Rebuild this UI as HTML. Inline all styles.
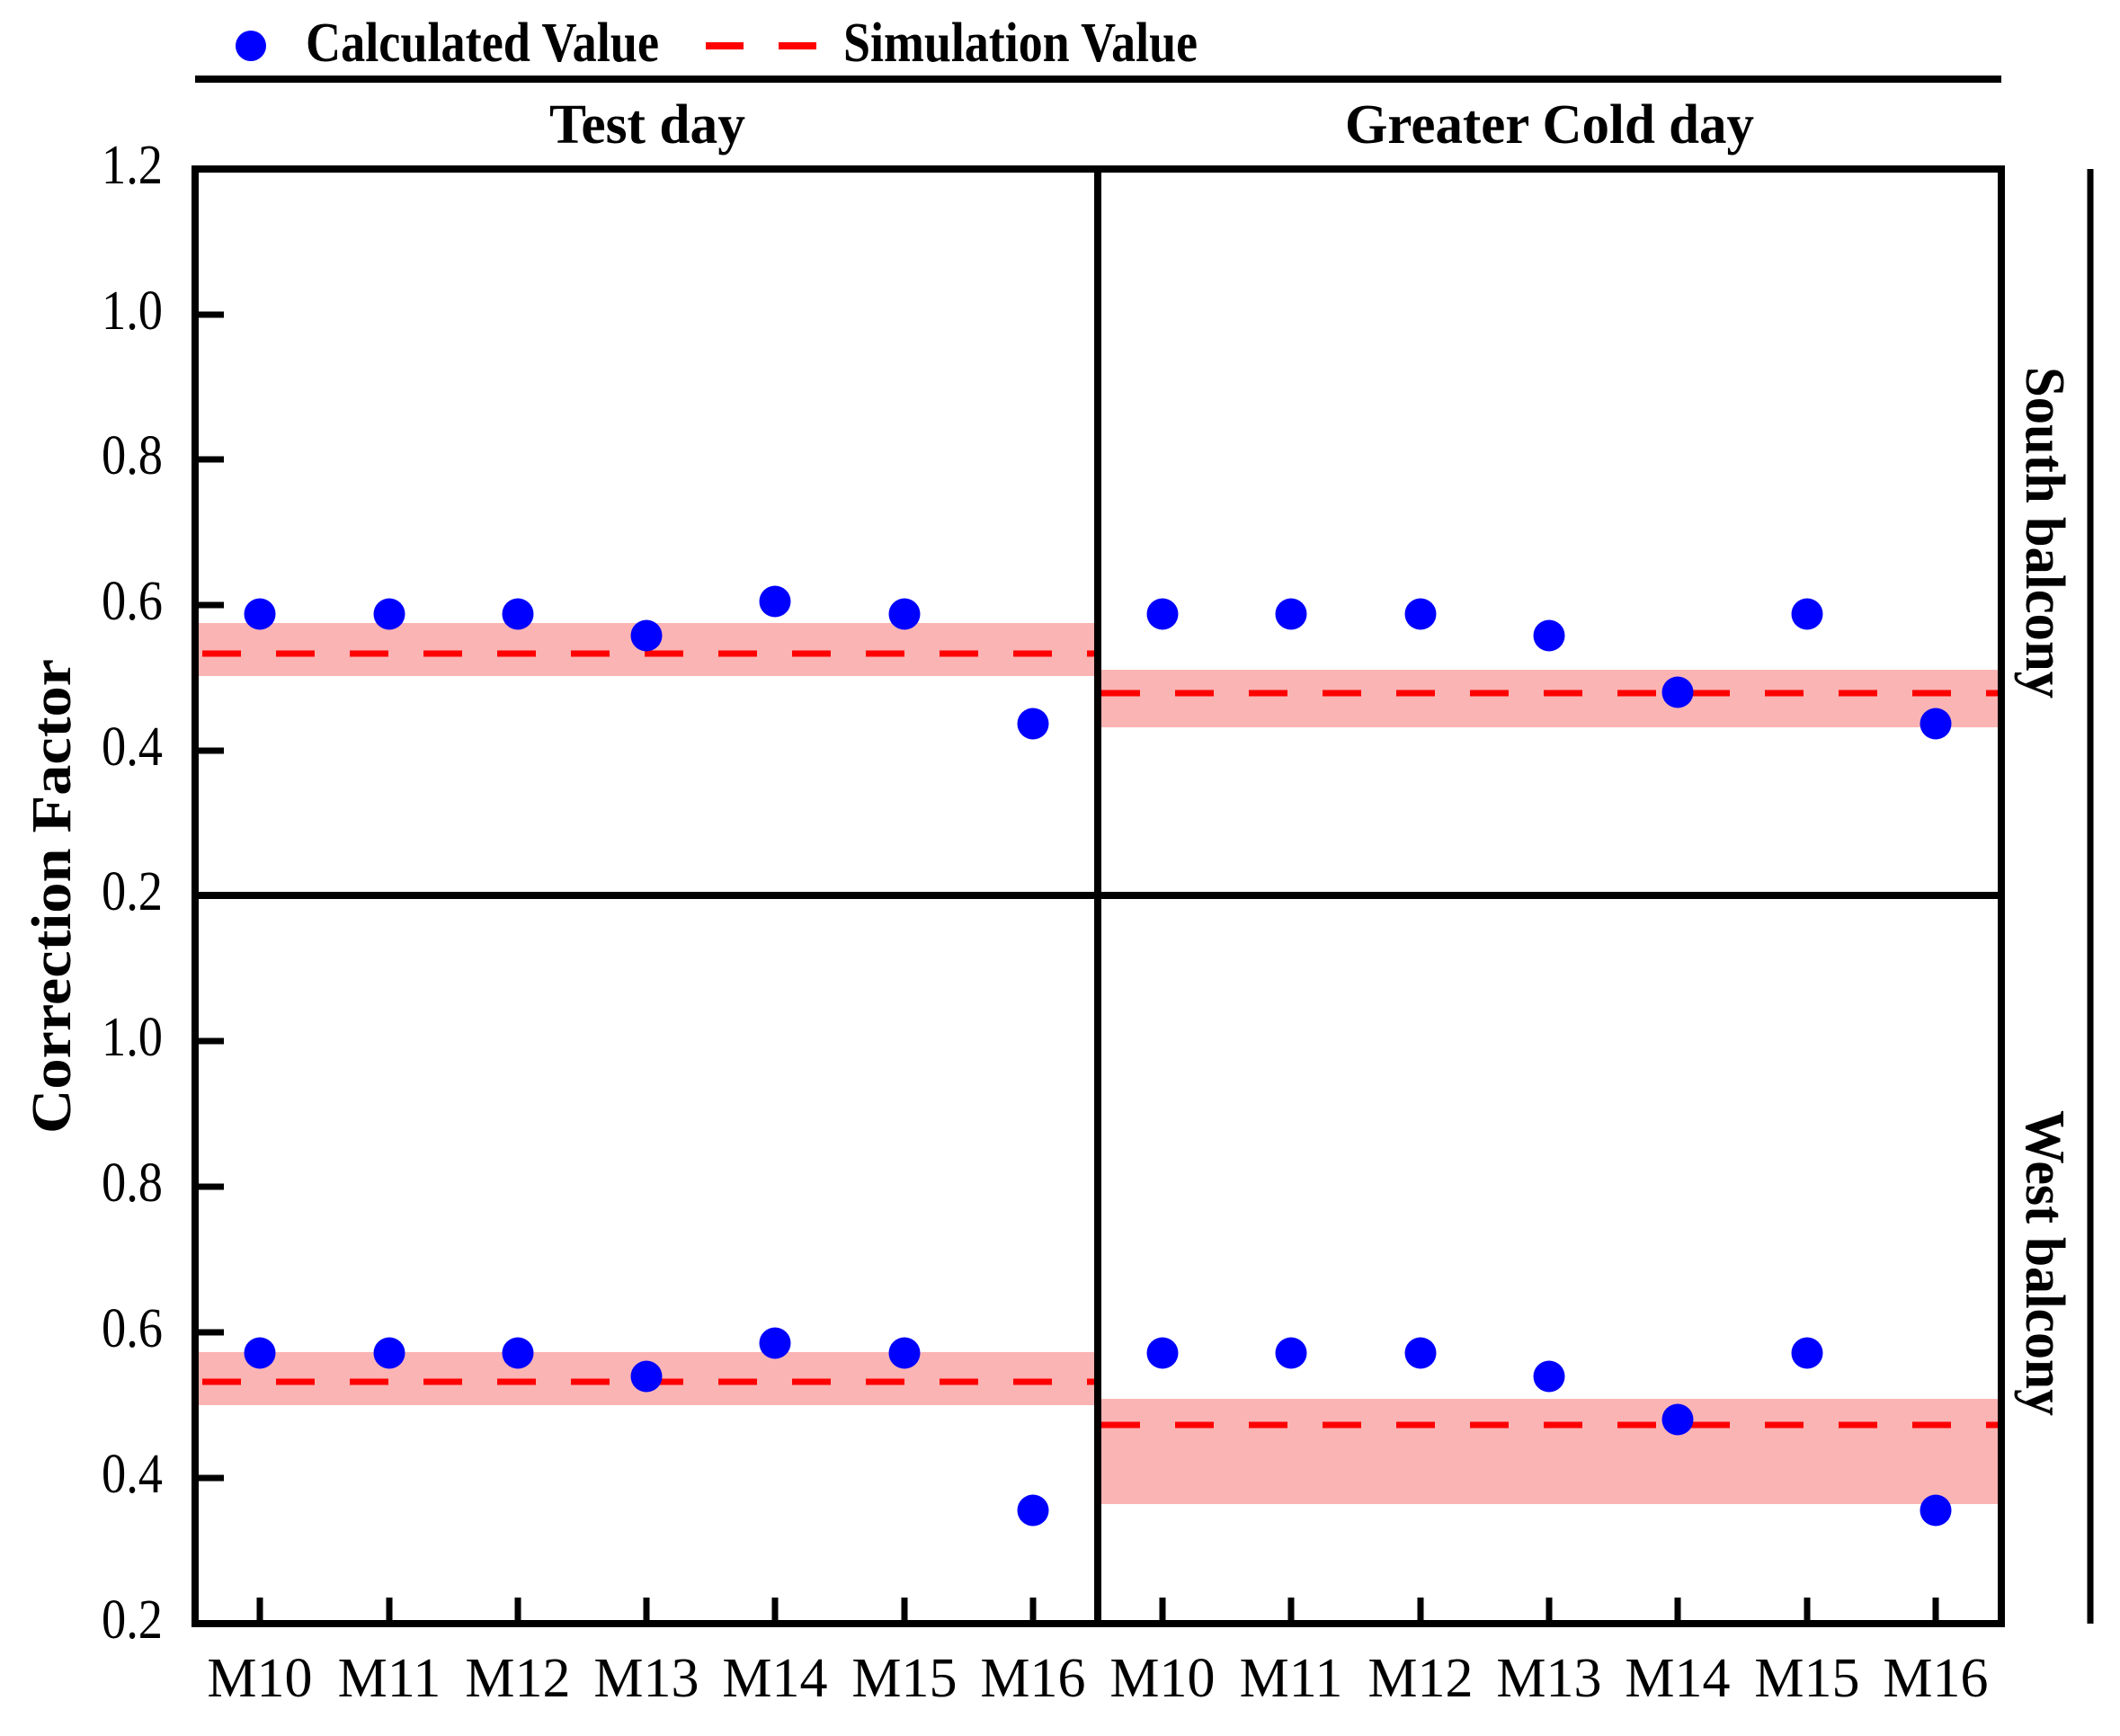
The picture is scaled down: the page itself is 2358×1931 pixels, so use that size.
<!DOCTYPE html>
<html><head><meta charset="utf-8"><style>html,body{margin:0;padding:0;background:#fff}svg{display:block}</style></head>
<body>
<svg width="2358" height="1931" viewBox="0 0 2358 1931" xmlns="http://www.w3.org/2000/svg" font-family="Liberation Serif, serif">
<rect width="2358" height="1931" fill="#fff"/>
<!-- bands -->
<rect x="221" y="693" width="1000" height="59" fill="#fbb4b4"/>
<rect x="1225" y="745" width="1001" height="64" fill="#fbb4b4"/>
<rect x="221" y="1504" width="1000" height="59" fill="#fbb4b4"/>
<rect x="1225" y="1556" width="1001" height="117" fill="#fbb4b4"/>
<!-- dashed lines -->
<g stroke="#ff0000" stroke-width="7" stroke-dasharray="43 39">
<line x1="221" y1="727" x2="1217" y2="727" stroke-dashoffset="-4"/>
<line x1="1225" y1="771" x2="2222" y2="771"/>
<line x1="221" y1="1537" x2="1217" y2="1537" stroke-dashoffset="-4"/>
<line x1="1225" y1="1585" x2="2222" y2="1585"/>
</g>
<!-- dots -->
<g fill="#0000ff">
<circle cx="289" cy="683" r="17.5"/><circle cx="433" cy="683" r="17.5"/><circle cx="576" cy="683" r="17.5"/><circle cx="719" cy="707" r="17.5"/><circle cx="862" cy="669" r="17.5"/><circle cx="1006" cy="683" r="17.5"/><circle cx="1149" cy="805" r="17.5"/>
<circle cx="1293" cy="683" r="17.5"/><circle cx="1436" cy="683" r="17.5"/><circle cx="1580" cy="683" r="17.5"/><circle cx="1723" cy="707" r="17.5"/><circle cx="1866" cy="770" r="17.5"/><circle cx="2010" cy="683" r="17.5"/><circle cx="2153" cy="805" r="17.5"/>
<circle cx="289" cy="1505" r="17.5"/><circle cx="433" cy="1505" r="17.5"/><circle cx="576" cy="1505" r="17.5"/><circle cx="719" cy="1531" r="17.5"/><circle cx="862" cy="1494" r="17.5"/><circle cx="1006" cy="1505" r="17.5"/><circle cx="1149" cy="1680" r="17.5"/>
<circle cx="1293" cy="1505" r="17.5"/><circle cx="1436" cy="1505" r="17.5"/><circle cx="1580" cy="1505" r="17.5"/><circle cx="1723" cy="1531" r="17.5"/><circle cx="1866" cy="1579" r="17.5"/><circle cx="2010" cy="1505" r="17.5"/><circle cx="2153" cy="1680" r="17.5"/>
</g>
<!-- frame -->
<g stroke="#000" stroke-width="8" fill="none">
<rect x="217" y="188" width="2009" height="1618"/>
<line x1="1221" y1="188" x2="1221" y2="1806"/>
<line x1="217" y1="996" x2="2226" y2="996"/>
<line x1="217" y1="88" x2="2226" y2="88"/>
</g>
<line x1="2325" y1="188" x2="2325" y2="1806" stroke="#000" stroke-width="7"/>
<!-- y ticks -->
<g stroke="#000" stroke-width="7">
<line x1="217" y1="350" x2="249" y2="350"/><line x1="217" y1="511" x2="249" y2="511"/><line x1="217" y1="673" x2="249" y2="673"/><line x1="217" y1="835" x2="249" y2="835"/>
<line x1="217" y1="1158" x2="249" y2="1158"/><line x1="217" y1="1320" x2="249" y2="1320"/><line x1="217" y1="1482" x2="249" y2="1482"/><line x1="217" y1="1644" x2="249" y2="1644"/>
<line x1="289" y1="1806" x2="289" y2="1777"/><line x1="433" y1="1806" x2="433" y2="1777"/><line x1="576" y1="1806" x2="576" y2="1777"/><line x1="719" y1="1806" x2="719" y2="1777"/><line x1="862" y1="1806" x2="862" y2="1777"/><line x1="1006" y1="1806" x2="1006" y2="1777"/><line x1="1149" y1="1806" x2="1149" y2="1777"/>
<line x1="1293" y1="1806" x2="1293" y2="1777"/><line x1="1436" y1="1806" x2="1436" y2="1777"/><line x1="1580" y1="1806" x2="1580" y2="1777"/><line x1="1723" y1="1806" x2="1723" y2="1777"/><line x1="1866" y1="1806" x2="1866" y2="1777"/><line x1="2010" y1="1806" x2="2010" y2="1777"/><line x1="2153" y1="1806" x2="2153" y2="1777"/>
</g>
<!-- y labels -->
<g font-size="62" text-anchor="end">
<text x="181" y="204" textLength="68" lengthAdjust="spacingAndGlyphs">1.2</text>
<text x="181" y="366" textLength="68" lengthAdjust="spacingAndGlyphs">1.0</text>
<text x="181" y="527" textLength="68" lengthAdjust="spacingAndGlyphs">0.8</text>
<text x="181" y="689" textLength="68" lengthAdjust="spacingAndGlyphs">0.6</text>
<text x="181" y="851" textLength="68" lengthAdjust="spacingAndGlyphs">0.4</text>
<text x="181" y="1012" textLength="68" lengthAdjust="spacingAndGlyphs">0.2</text>
<text x="181" y="1174" textLength="68" lengthAdjust="spacingAndGlyphs">1.0</text>
<text x="181" y="1336" textLength="68" lengthAdjust="spacingAndGlyphs">0.8</text>
<text x="181" y="1498" textLength="68" lengthAdjust="spacingAndGlyphs">0.6</text>
<text x="181" y="1660" textLength="68" lengthAdjust="spacingAndGlyphs">0.4</text>
<text x="181" y="1822" textLength="68" lengthAdjust="spacingAndGlyphs">0.2</text>
</g>
<!-- x labels -->
<g font-size="62" text-anchor="middle">
<text x="289" y="1887">M10</text><text x="433" y="1887">M11</text><text x="576" y="1887">M12</text><text x="719" y="1887">M13</text><text x="862" y="1887">M14</text><text x="1006" y="1887">M15</text><text x="1149" y="1887">M16</text>
<text x="1293" y="1887">M10</text><text x="1436" y="1887">M11</text><text x="1580" y="1887">M12</text><text x="1723" y="1887">M13</text><text x="1866" y="1887">M14</text><text x="2010" y="1887">M15</text><text x="2153" y="1887">M16</text>
</g>
<!-- titles -->
<g font-weight="bold" font-size="62">
<text x="611" y="159" textLength="218" lengthAdjust="spacingAndGlyphs">Test day</text>
<text x="1496" y="159" textLength="455" lengthAdjust="spacingAndGlyphs">Greater Cold day</text>
<text x="340" y="68" textLength="393" lengthAdjust="spacingAndGlyphs">Calculated Value</text>
<text x="938" y="68" textLength="394" lengthAdjust="spacingAndGlyphs">Simulation Value</text>
<text transform="translate(78,1261) rotate(-90)" textLength="528" lengthAdjust="spacingAndGlyphs">Correction Factor</text>
<text transform="translate(2254,408) rotate(90)" textLength="369" lengthAdjust="spacingAndGlyphs">South balcony</text>
<text transform="translate(2254,1235) rotate(90)" textLength="340" lengthAdjust="spacingAndGlyphs">West balcony</text>
</g>
<circle cx="279" cy="51" r="17" fill="#0000ff"/>
<line x1="785" y1="51" x2="827" y2="51" stroke="#ff0000" stroke-width="8"/>
<line x1="866" y1="51" x2="908" y2="51" stroke="#ff0000" stroke-width="8"/>
</svg>
</body></html>
